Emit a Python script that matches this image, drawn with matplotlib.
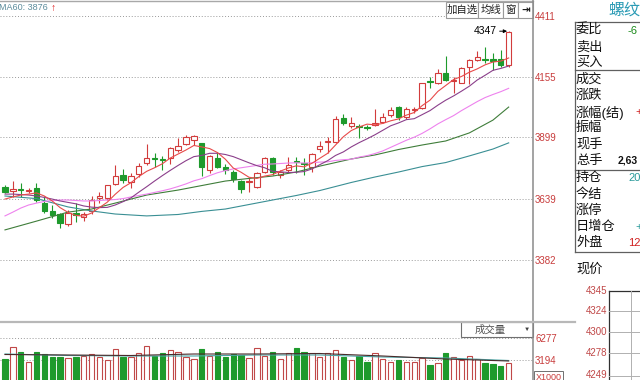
import matplotlib
matplotlib.use("Agg")
import matplotlib.pyplot as plt
from matplotlib.patches import Rectangle

plt.rcParams["font.family"] = ["Liberation Sans", "Noto Sans CJK SC", "DejaVu Sans"]

# ---------------- Data ----------------
opens = [3691, 3674, 3681, 3675, 3687, 3624, 3589, 3576, 3534, 3579,
         3565, 3590, 3642, 3642, 3703, 3741, 3712, 3745, 3790, 3813,
         3809, 3811, 3846, 3871, 3888, 3874, 3762, 3811, 3776, 3754,
         3715, 3713, 3689, 3754, 3811, 3741, 3762, 3799, 3792, 3776,
         3849, 3879, 3881, 3980, 3947, 3946, 3944, 3951, 3965, 3994,
         4026, 3984, 4015, 4022, 4136, 4127, 4169, 4139, 4130, 4195,
         4225, 4230, 4228, 4228, 4204]
highs = [3698, 3716, 3708, 3687, 3708, 3652, 3614, 3582, 3593, 3621,
         3586, 3652, 3670, 3700, 3783, 3765, 3748, 3790, 3871, 3832,
         3821, 3860, 3895, 3909, 3909, 3877, 3825, 3839, 3787, 3762,
         3719, 3727, 3754, 3818, 3818, 3762, 3815, 3815, 3811, 3832,
         3885, 3902, 3989, 3998, 3984, 3956, 3951, 4018, 4001, 4026,
         4032, 4026, 4026, 4130, 4153, 4186, 4242, 4155, 4197, 4228,
         4265, 4282, 4254, 4268, 4347]
lows = [3665, 3649, 3649, 3666, 3628, 3582, 3558, 3516, 3525, 3544,
        3548, 3576, 3624, 3635, 3698, 3706, 3684, 3733, 3783, 3776,
        3762, 3787, 3839, 3867, 3867, 3736, 3748, 3769, 3745, 3712,
        3666, 3670, 3684, 3748, 3741, 3727, 3754, 3748, 3741, 3754,
        3839, 3835, 3877, 3951, 3937, 3895, 3930, 3947, 3961, 3986,
        3972, 3975, 4001, 4018, 4106, 4124, 4138, 4088, 4127, 4124,
        4222, 4214, 4183, 4197, 4195]
closes = [3670, 3683, 3678, 3679, 3635, 3590, 3572, 3537, 3582, 3571,
          3576, 3635, 3650, 3698, 3736, 3719, 3736, 3778, 3811, 3809,
          3805, 3856, 3863, 3900, 3905, 3773, 3821, 3776, 3762, 3722,
          3680, 3717, 3748, 3811, 3754, 3754, 3783, 3795, 3788, 3829,
          3863, 3883, 3975, 3959, 3959, 3942, 3940, 3961, 3986, 4015,
          3984, 4018, 4020, 4127, 4132, 4172, 4141, 4143, 4190, 4225,
          4239, 4226, 4223, 4204, 4345]
volumes = [3293, 5083, 4373, 2867, 4287, 4046, 3577, 3577, 3435, 3663,
           3762, 4003, 3577, 3194, 4713, 3577, 3663, 4231, 5225, 3762,
           4145, 4614, 4373, 3577, 3293, 4713, 3762, 4287, 3577, 4003,
           3904, 3435, 4941, 3762, 4373, 3336, 4231, 4941, 4373, 4145,
           3577, 4145, 4614, 3663, 3194, 3762, 2953, 4145, 3293, 2953,
           3194, 2953, 2867, 3435, 2484, 2811, 4145, 3577, 3194, 3762,
           3293, 2725, 2583, 2342, 2725]

ma5 = [3639, 3648, 3656, 3660, 3665, 3652, 3631, 3603, 3583, 3570,
       3567, 3580, 3603, 3626, 3659, 3688, 3708, 3734, 3756, 3771,
       3788, 3812, 3829, 3846, 3865, 3859, 3852, 3835, 3807, 3770,
       3752, 3731, 3726, 3736, 3742, 3757, 3770, 3779, 3775, 3790,
       3811, 3832, 3867, 3902, 3928, 3943, 3955, 3952, 3958, 3969,
       3977, 3993, 4004, 4033, 4056, 4093, 4118, 4143, 4156, 4174,
       4188, 4205, 4217, 4221, 4234]
ma10 = [3660, 3660, 3658, 3656, 3652, 3646, 3639, 3631, 3625, 3619,
        3610, 3605, 3603, 3604, 3614, 3628, 3644, 3668, 3691, 3715,
        3738, 3760, 3781, 3801, 3818, 3823, 3832, 3832, 3827, 3818,
        3805, 3792, 3780, 3771, 3756, 3754, 3751, 3752, 3755, 3766,
        3784, 3801, 3823, 3838, 3859, 3877, 3893, 3910, 3929, 3948,
        3960, 3974, 3978, 3995, 4012, 4035, 4056, 4074, 4094, 4115,
        4141, 4161, 4182, 4190, 4200]
ma20 = [3568, 3584, 3601, 3614, 3622, 3629, 3633, 3635, 3635, 3633,
        3631, 3631, 3633, 3635, 3637, 3641, 3648, 3654, 3660, 3667,
        3674, 3682, 3692, 3703, 3716, 3725, 3738, 3750, 3759, 3766,
        3771, 3776, 3781, 3786, 3787, 3789, 3791, 3792, 3791, 3792,
        3795, 3796, 3802, 3805, 3807, 3816, 3822, 3831, 3842, 3857,
        3872, 3887, 3900, 3916, 3935, 3956, 3974, 3991, 4012, 4031,
        4050, 4067, 4080, 4092, 4106]
slow_idx = [0, 4, 8, 11, 14, 18, 22, 25, 28, 31, 34, 37, 40, 44, 47, 50, 53, 56, 59, 62, 64]
ma40 = [3509, 3546, 3584, 3597, 3622, 3656, 3677, 3696, 3715, 3726, 3736,
        3753, 3778, 3808, 3825, 3848, 3867, 3884, 3918, 3972, 4027]
ma60 = [3652, 3641, 3606, 3589, 3576, 3568, 3574, 3587, 3597, 3616, 3635,
        3654, 3675, 3709, 3732, 3753, 3776, 3793, 3821, 3850, 3876]

vol_ma_idx = [0, 8, 16, 24, 32, 40, 48, 56, 64]
vol_ma5 = [3975, 3904, 3833, 4046, 4046, 4117, 3762, 3336, 3052]
vol_ma10 = [4046, 3833, 3762, 3762, 3904, 3904, 3620, 3478, 3123]

price_ticks = [4411, 4155, 3899, 3639, 3382]
vol_ticks = [6277, 3194]

quote_labels = ["委比", "卖出", "买入", "成交", "涨跌", "涨幅(结)", "振幅",
                "现手", "总手", "持仓", "今结", "涨停", "日增仓", "外盘"]
quote_y = [30.7, 47, 62.7, 79.3, 96, 112.5, 128.3, 144.3, 160.7, 178.3,
           194.3, 210.7, 227.3, 243.3]
ladder_prices = ["4345", "4324", "4300", "4278", "4249"]
ladder_y = [291.5, 311.3, 332.3, 352.7, 375.5]

RED = "#d23c3c"
GREEN = "#1e9a2c"
W, H = 640, 380


def px_rect(x0, y0, x1, y1):
    return [x0 / W, 1 - y1 / H, (x1 - x0) / W, (y1 - y0) / H]


fig = plt.figure(figsize=(6.4, 3.8), dpi=100)
fig.patch.set_facecolor("white")

# ---------------- Price panel ----------------
ax = fig.add_axes(px_rect(0, 0, 533, 322))
ax.set_xlim(-0.635, 67.09)
ax.set_ylim(3120.6, 4478.5)
for s in ax.spines.values():
    s.set_visible(False)
ax.set_xticks([])
ax.yaxis.tick_right()
ax.set_yticks(price_ticks)
ax.tick_params(axis="y", length=0, pad=1.5, labelsize=7, labelcolor="#c83c3c")
ax.grid(axis="y", ls=(0, (1, 2)), color="#9a9a9a", lw=0.7)
ax.set_axisbelow(True)

for i in range(len(opens)):
    up = closes[i] >= opens[i]
    col = RED if up else GREEN
    ax.vlines(i, lows[i], highs[i], color=col, lw=0.8, zorder=2)
    bottom = min(opens[i], closes[i])
    h = max(abs(closes[i] - opens[i]), 3)
    ax.add_patch(Rectangle((i - 0.34, bottom), 0.68, h, facecolor="white" if up else col,
                           edgecolor=col, lw=0.8, zorder=3))

idx = list(range(len(opens)))
ax.plot(slow_idx, ma60, color="#3a8f94", lw=0.8, zorder=4)
ax.plot(slow_idx, ma40, color="#3f7d3a", lw=0.8, zorder=4)
ax.plot(idx, ma20, color="#ee82ee", lw=0.8, zorder=4)
ax.plot(idx, ma10, color="#8b3f8b", lw=0.8, zorder=4)
ax.plot(idx, ma5, color="#e84a4a", lw=0.8, zorder=4)

hi = max(highs)
ax.annotate(str(hi), xy=(63.8, hi), xytext=(62.5, hi), ha="right", va="center",
            fontsize=7.5, color="black",
            arrowprops=dict(arrowstyle="-|>", color="black", lw=0.7,
                            mutation_scale=5, shrinkA=0, shrinkB=0))

# ---------------- Volume panel ----------------
vax = fig.add_axes(px_rect(0, 322, 533, 380))
vax.set_xlim(-0.635, 67.09)
vax.set_ylim(354, 8590)
for s in vax.spines.values():
    s.set_visible(False)
vax.set_xticks([])
vax.yaxis.tick_right()
vax.set_yticks(vol_ticks)
vax.tick_params(axis="y", length=0, pad=1.5, labelsize=7, labelcolor="#c83c3c")
vax.grid(axis="y", ls=(0, (1, 2)), color="#9a9a9a", lw=0.7)
vax.set_axisbelow(True)

up_flags = [c >= o for o, c in zip(opens, closes)]
vax.bar(idx, volumes, width=0.68,
        color=["white" if u else GREEN for u in up_flags],
        edgecolor=["#c04848" if u else GREEN for u in up_flags], lw=0.8, zorder=2)
vax.plot(vol_ma_idx, vol_ma10, color="#4aa6a6", lw=0.8, zorder=3)
vax.plot(vol_ma_idx, vol_ma5, color="#4a2a2a", lw=0.8, zorder=3)

# ---------------- Frame, toolbar, quote panel ----------------
ov = fig.add_axes([0, 0, 1, 1], zorder=5)
ov.set_xlim(0, W)
ov.set_ylim(H, 0)
ov.axis("off")
ov.patch.set_alpha(0)

ov.plot([0, 533], [0.5, 0.5], color="#a8a8a8", lw=1)
ov.plot([533, 533], [0, 380], color="#8a8a8a", lw=1.1)
ov.plot([0, 575], [322, 322], color="#b8b8b8", lw=1.6)

ov.text(-1, 8, "MA60: 3876", fontsize=6.5, color="#5b8c9c", va="center", ha="left")
ov.text(51, 8, "↑", fontsize=7.5, color="#e02020", va="center", ha="left", fontweight="bold")

buttons = [("加自选", 445.7, 478.3), ("均线", 478.3, 503.3), ("窗", 503.3, 518.3), ("⇥", 518.3, 533)]
for label, x0, x1 in buttons:
    ov.add_patch(Rectangle((x0, 1.7), x1 - x0, 16.6, facecolor="white", edgecolor="#9a9a9a", lw=0.8))
    ov.text((x0 + x1) / 2, 10, label, fontsize=7.5, color="#202020", ha="center", va="center",
            fontweight="bold" if label == "⇥" else "normal")

ov.add_patch(Rectangle((460.7, 322), 72.3, 15.3, facecolor="white", edgecolor="#707070", lw=0.8))
ov.text(490, 330, "成交量", fontsize=7.5, color="#505050", ha="center", va="center")
ov.text(527, 329.5, "▼", fontsize=4.5, color="#404040", ha="center", va="center")

ov.text(535.5, 377, "X1000", fontsize=6.5, color="#c83c3c", ha="left", va="center",
        bbox=dict(boxstyle="square,pad=0.15", facecolor="white", edgecolor="#707070", lw=0.7))

ov.text(608, 10, "螺纹", fontsize=11.5, color="#2b9bb5", ha="left", va="center")
for y in [21.7, 70, 169.5, 251.7]:
    ov.plot([575, 640], [y, y], color="#606060", lw=0.9)
ov.plot([575, 575], [21.7, 251.7], color="#606060", lw=0.9)
for lab, y in zip(quote_labels, quote_y):
    ov.text(576, y, lab, fontsize=9.5, color="#111111", ha="left", va="center")

ov.text(628, 30.7, "-6", fontsize=8, color="#1a8a1a", ha="left", va="center")
ov.text(635, 112.5, "+", fontsize=8, color="#d02020", ha="left", va="center")
ov.text(618, 160.7, "2,63", fontsize=7.5, color="#111111", ha="left", va="center", fontweight="bold")
ov.text(628, 178.3, "20", fontsize=8, color="#2a9a9a", ha="left", va="center")
ov.text(635, 227.3, "+", fontsize=8, color="#2a9a9a", ha="left", va="center")
ov.text(628, 243.3, "12", fontsize=8, color="#d02020", ha="left", va="center")

ov.text(576, 269, "现价", fontsize=9.5, color="#111111", ha="left", va="center")
ov.plot([609.3, 640], [290.7, 290.7], color="#303030", lw=0.9)
ov.plot([609.3, 609.3], [290.7, 380], color="#303030", lw=0.9)
ov.plot([631, 631], [290.7, 380], color="#b0b0b0", lw=0.7)
for lab, y in zip(ladder_prices, ladder_y):
    ov.text(607.5, y, lab, fontsize=7, color="#c04848", ha="right", va="center")
    if y > 300:
        ov.plot([609.3, 640], [y, y], color="#b0b0b0", lw=0.7)

fig.savefig("out.png", dpi=100)
